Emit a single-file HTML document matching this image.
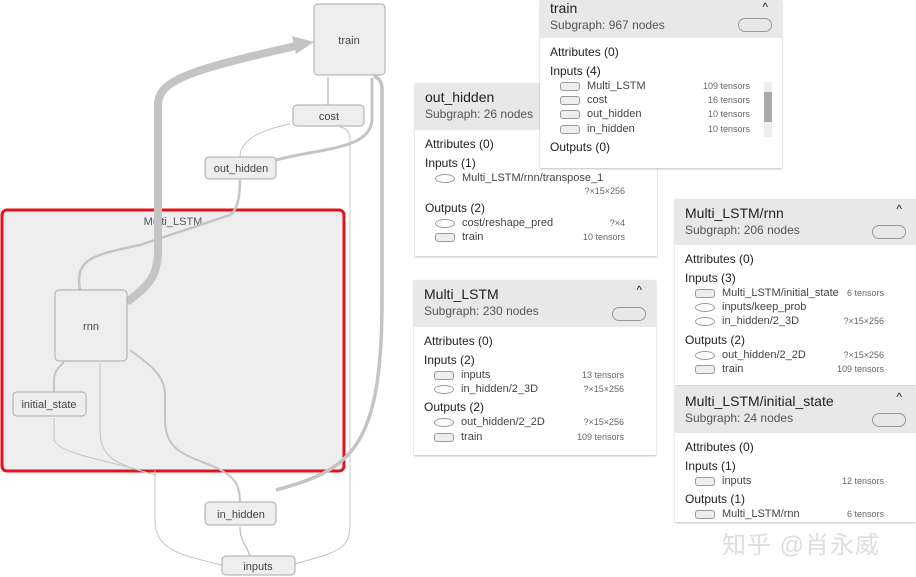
<!DOCTYPE html>
<html><head><meta charset="utf-8"><style>
body{margin:0;width:916px;height:577px;background:#fff;position:relative;overflow:hidden;font-family:"Liberation Sans","Noto Sans CJK SC",sans-serif;color:#212121}
.p{position:absolute;background:#fff;box-shadow:0 1px 2px rgba(0,0,0,.25)}
.h{background:#e8e8e8;padding:6px 10px 4px;position:relative}
.t{font-size:14px;line-height:17px}
.s{font-size:12px;color:#555;line-height:16px}
.car{position:absolute;right:14px;top:3px;font-size:12px}
.tog{position:absolute;right:10px;bottom:6px;width:32px;height:12px;border:1.5px solid #999;border-radius:7px}
.b{padding:3px 10px;font-size:12px}
.sec{margin-top:4px;line-height:15px}
.it{position:relative;height:14.2px;font-size:11px;color:#444;padding-left:37px;line-height:14px}
.it i{position:absolute;left:10px;top:3px;width:18px;height:7px;border:1px solid #999;border-radius:3px;background:#eee}
.it i.o{border-radius:50%;background:#fff}
.it span{position:absolute;right:22px;font-size:9px;color:#666}
.sb{position:absolute;right:4px;width:8px;background:#eee}
</style></head><body>
<svg width="400" height="577" style="position:absolute;left:0;top:0">
<rect x="2" y="210" width="342" height="261" rx="5" fill="#eee" stroke="#e0141a" stroke-width="3"/>
<text x="173" y="225" font-size="11" fill="#555" text-anchor="middle" font-family="Liberation Sans">Multi_LSTM</text>
<g fill="none" stroke="#c4c4c4">
<path d="M127,302 C150,285 158,275 158,250 L158,105 C158,80 190,70 300,45" stroke-width="8"/>
<path d="M80,290 C75,260 90,255 140,245 L230,215 C238,210 240,195 240,180" stroke-width="2.5"/>
<path d="M276,160 C320,148 370,150 372,120 L372,78" stroke-width="3"/>
<path d="M276,490 C350,470 382,450 382,300 L382,90 C382,80 378,78 374,76" stroke-width="3.5"/>
<path d="M240,157 C240,140 260,130 290,124" stroke-width="1"/>
<path d="M328,105 L328,77" stroke-width="1.5"/>
<path d="M295,564 C345,550 350,548 350,520 L350,140 C350,130 345,128 340,127" stroke-width="1"/>
<path d="M250,556 C246,545 240,540 240,527" stroke-width="1.5"/>
<path d="M222,565 C180,555 155,550 155,520 L155,470" stroke-width="1"/>
<path d="M155,475 C110,460 60,455 54,440 L54,418" stroke-width="1"/>
<path d="M155,475 C120,465 100,460 100,430 L100,363" stroke-width="1"/>
<path d="M240,502 C240,485 235,475 210,465 C185,455 165,450 165,420 L165,395 C165,375 150,365 130,350" stroke-width="2"/>
<path d="M54,392 L54,380 C54,372 58,368 64,362" stroke-width="2"/>
</g>
<polygon points="314,42 292,36 296,54" fill="#c4c4c4"/>
<g fill="#eee" stroke="#aaa" stroke-width="1">
<rect x="314" y="4" width="71" height="71" rx="4"/>
<rect x="293" y="105" width="71" height="21" rx="4"/>
<rect x="205" y="157" width="71" height="22" rx="4"/>
<rect x="55" y="290" width="72" height="71" rx="4"/>
<rect x="13" y="392" width="73" height="24" rx="4"/>
<rect x="205" y="502" width="71" height="23" rx="4"/>
<rect x="222" y="556" width="73" height="19" rx="4"/>
</g>
<g font-family="Liberation Sans" font-size="11" fill="#444" text-anchor="middle">
<text x="349" y="44">train</text><text x="329" y="120">cost</text><text x="241" y="172">out_hidden</text>
<text x="91" y="330">rnn</text><text x="49" y="408">initial_state</text><text x="241" y="518">in_hidden</text><text x="258" y="570">inputs</text>
</g>
</svg>

<div class="p" style="left:415px;top:83px;width:242px;height:173px">
<div class="h" style="height:37px"><div class="t">out_hidden</div><div class="s">Subgraph: 26 nodes</div></div>
<div class="b"><div class="sec">Attributes (0)</div><div class="sec">Inputs (1)</div>
<div class="it"><i class="o"></i>Multi_LSTM/rnn/transpose_1</div>
<div class="it" style="height:12px"><span style="top:-1px">?×15×256</span></div>
<div class="sec">Outputs (2)</div>
<div class="it"><i class="o"></i>cost/reshape_pred<span>?×4</span></div>
<div class="it"><i></i>train<span>10 tensors</span></div></div></div>

<div class="p" style="left:540px;top:0;width:242px;height:168px">
<div class="h" style="height:34px;padding-top:0"><div class="t">train</div><div class="s">Subgraph: 967 nodes</div><div class="car" style="top:0">^</div><div class="tog"></div></div>
<div class="b"><div class="sec">Attributes (0)</div><div class="sec">Inputs (4)</div>
<div class="it"><i></i>Multi_LSTM<span>109 tensors</span></div>
<div class="it"><i></i>cost<span>16 tensors</span></div>
<div class="it"><i></i>out_hidden<span>10 tensors</span></div>
<div class="it"><i></i>in_hidden<span>10 tensors</span></div>
<div class="sec">Outputs (0)</div></div>
<div class="sb" style="top:82px;height:55px;right:10px"><div style="margin-top:10px;height:30px;background:#aaa"></div></div></div>

<div class="p" style="left:675px;top:199px;width:241px;height:186px">
<div class="h" style="height:36px"><div class="t">Multi_LSTM/rnn</div><div class="s">Subgraph: 206 nodes</div><div class="car">^</div><div class="tog"></div></div>
<div class="b"><div class="sec">Attributes (0)</div><div class="sec">Inputs (3)</div>
<div class="it"><i></i>Multi_LSTM/initial_state<span>6 tensors</span></div>
<div class="it"><i class="o"></i>inputs/keep_prob</div>
<div class="it"><i class="o"></i>in_hidden/2_3D<span>?×15×256</span></div>
<div class="sec">Outputs (2)</div>
<div class="it"><i class="o"></i>out_hidden/2_2D<span>?×15×256</span></div>
<div class="it"><i></i>train<span>109 tensors</span></div></div></div>

<div class="p" style="left:414px;top:280px;width:242px;height:175px">
<div class="h" style="height:37px"><div class="t">Multi_LSTM</div><div class="s">Subgraph: 230 nodes</div><div class="car">^</div><div class="tog"></div></div>
<div class="b"><div class="sec">Attributes (0)</div><div class="sec">Inputs (2)</div>
<div class="it"><i></i>inputs<span>13 tensors</span></div>
<div class="it"><i class="o"></i>in_hidden/2_3D<span>?×15×256</span></div>
<div class="sec">Outputs (2)</div>
<div class="it"><i class="o"></i>out_hidden/2_2D<span>?×15×256</span></div>
<div class="it"><i></i>train<span>109 tensors</span></div></div></div>

<div class="p" style="left:675px;top:387px;width:241px;height:135px">
<div class="h" style="height:36px"><div class="t">Multi_LSTM/initial_state</div><div class="s">Subgraph: 24 nodes</div><div class="car">^</div><div class="tog"></div></div>
<div class="b"><div class="sec">Attributes (0)</div><div class="sec">Inputs (1)</div>
<div class="it"><i></i>inputs<span>12 tensors</span></div>
<div class="sec">Outputs (1)</div>
<div class="it"><i></i>Multi_LSTM/rnn<span>6 tensors</span></div></div></div>

<div style="position:absolute;left:722px;top:525px;font-size:24px;color:#ddd;letter-spacing:1px">知乎 @肖永威</div>
</body></html>
